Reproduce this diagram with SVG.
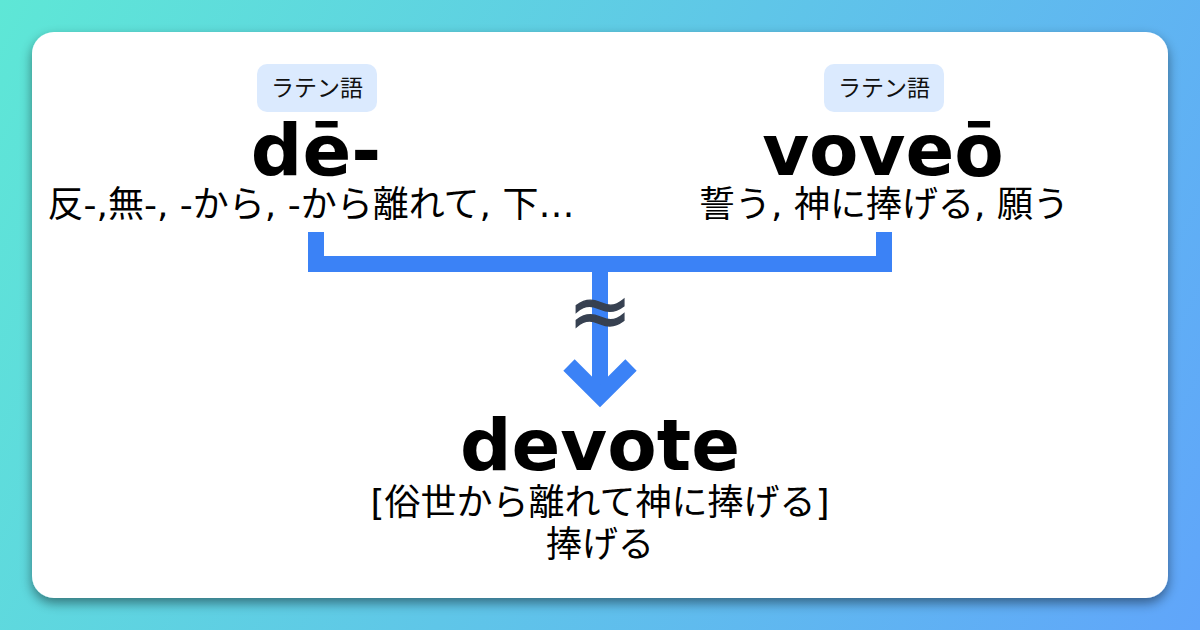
<svg xmlns="http://www.w3.org/2000/svg" width="1200" height="630" viewBox="0 0 1200 630">
<defs>
<linearGradient id="bg" x1="0" y1="0" x2="1200" y2="630" gradientUnits="userSpaceOnUse">
<stop offset="0" stop-color="#5ee7d6"/>
<stop offset="1" stop-color="#60a5fa"/>
</linearGradient>
<filter id="sh" x="-10%" y="-10%" width="120%" height="130%">
<feDropShadow dx="0" dy="5" stdDeviation="6" flood-color="#000" flood-opacity="0.45"/>
</filter>
<style>
.badge{fill:#dbeafe}
.btxt{font-family:"Noto Sans CJK JP",sans-serif;font-size:23px;fill:#111;text-anchor:middle}
.word{font-family:"DejaVu Sans",sans-serif;font-weight:bold;font-size:72px;fill:#000;text-anchor:middle}
.mean{font-family:"DejaVu Sans","Noto Sans CJK JP",sans-serif;font-size:36px;fill:#000;text-anchor:middle}
.conn{fill:none;stroke:#3b82f6;stroke-width:16;stroke-linejoin:miter;stroke-linecap:butt}
.approx{font-family:"DejaVu Sans",sans-serif;font-size:76px;fill:#374151;stroke:#374151;stroke-width:1.4;text-anchor:middle}
</style>
</defs>
<rect width="1200" height="630" fill="url(#bg)"/>
<rect x="32" y="32" width="1136" height="566" rx="22" fill="#fff" filter="url(#sh)"/>
<g id="connectors">
<path class="conn" d="M316 232 V264 H884 V232"/>
<path class="conn" d="M600 264 V396"/>
<polyline class="conn" points="569,365 600,396 631,365"/>
<text class="approx" x="600" y="337">≈</text>
</g>
<g id="node-de">
<rect class="badge" x="257" y="64" width="120" height="48" rx="10"/>
<text class="btxt" x="317" y="96">ラテン語</text>
<text class="word" x="316" y="175">dē-</text>
<text class="mean" x="311" y="217">反-,無-, -から, -から離れて, 下…</text>
</g>
<g id="node-voveo">
<rect class="badge" x="824" y="64" width="120" height="48" rx="10"/>
<text class="btxt" x="884" y="96">ラテン語</text>
<text class="word" x="883" y="175">voveō</text>
<text class="mean" x="884" y="217">誓う, 神に捧げる, 願う</text>
</g>
<g id="node-devote">
<text class="word" x="600" y="470">devote</text>
<text class="mean" x="600" y="515">[俗世から離れて神に捧げる]</text>
<text class="mean" x="600" y="557">捧げる</text>
</g>
</svg>
